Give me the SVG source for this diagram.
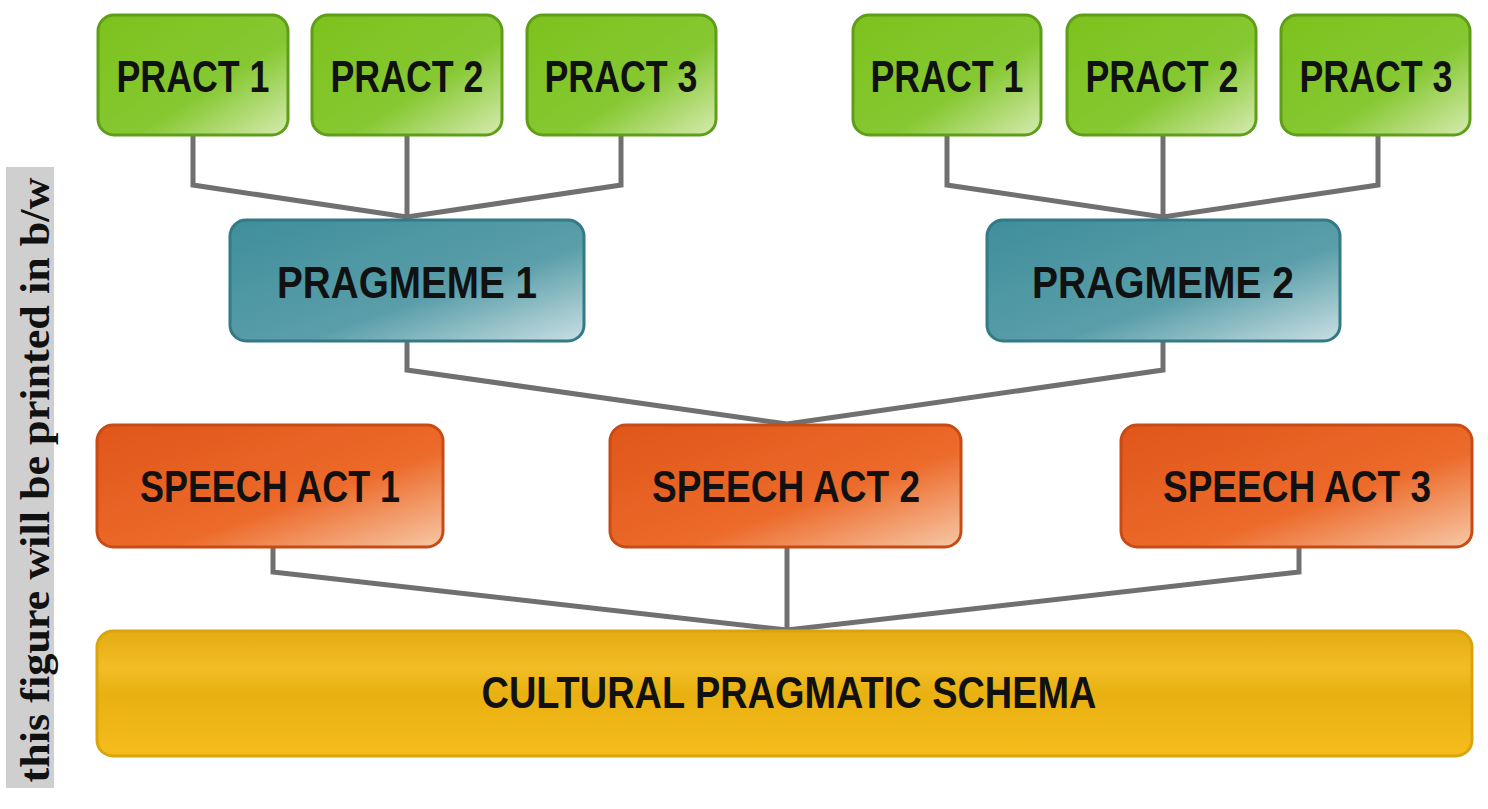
<svg xmlns="http://www.w3.org/2000/svg" width="1488" height="809" viewBox="0 0 1488 809">
<style>
.t{font-family:"Liberation Sans",Arial,sans-serif;font-weight:bold;font-size:44px;fill:#111;text-anchor:middle}
.c{fill:none;stroke:#707070;stroke-width:5;stroke-linejoin:miter}
.n{stroke-width:3}
</style>
<defs>
<linearGradient id="gg" x1="0" y1="0" x2="1" y2="1"><stop offset="0" stop-color="#7cc21c"/><stop offset="0.6" stop-color="#86c832"/><stop offset="1" stop-color="#d6ebb0"/></linearGradient>
<linearGradient id="gb" x1="0" y1="0" x2="1" y2="1"><stop offset="0" stop-color="#3f8e9c"/><stop offset="0.6" stop-color="#5a9ea9"/><stop offset="1" stop-color="#c9dfe3"/></linearGradient>
<linearGradient id="go" x1="0" y1="0" x2="1" y2="1"><stop offset="0" stop-color="#e0561a"/><stop offset="0.6" stop-color="#ec6a2a"/><stop offset="1" stop-color="#f7c8a6"/></linearGradient>
<linearGradient id="gy" x1="0" y1="0" x2="0" y2="1"><stop offset="0" stop-color="#e5ac12"/><stop offset="0.3" stop-color="#f2bd26"/><stop offset="0.5" stop-color="#e8b010"/><stop offset="1" stop-color="#f5bc1c"/></linearGradient>
</defs>
<rect width="1488" height="809" fill="#fff"/>
<g id="note"><rect x="6" y="167" width="48" height="621" fill="#cfcfcf"/>
<text transform="translate(49,480) rotate(-90)" text-anchor="middle" font-family="Liberation Serif,serif" font-weight="bold" font-size="42" fill="#111" textLength="605" lengthAdjust="spacingAndGlyphs">this figure will be printed in b/w</text></g>
<g id="connectors" class="c">
<polyline points="193,135 193,185 407,217 621,185 621,135"/><line x1="407" y1="135" x2="407" y2="217"/>
<polyline points="947,135 947,185 1163,217 1378,185 1378,135"/><line x1="1163" y1="135" x2="1163" y2="217"/>
<polyline points="407,341 407,370 787,424 1163,370 1163,341"/>
<polyline points="273,547 273,572 787,630 1299,572 1299,547"/><line x1="787" y1="547" x2="787" y2="630"/>
</g>
<g id="p1"><rect x="98" y="15" width="190" height="120" rx="16" fill="url(#gg)" stroke="#5e9e18" class="n"/><text class="t" x="193" y="92" textLength="153" lengthAdjust="spacingAndGlyphs">PRACT 1</text></g>
<g id="p2"><rect x="312" y="15" width="190" height="120" rx="16" fill="url(#gg)" stroke="#5e9e18" class="n"/><text class="t" x="407" y="92" textLength="153" lengthAdjust="spacingAndGlyphs">PRACT 2</text></g>
<g id="p3"><rect x="527" y="15" width="189" height="120" rx="16" fill="url(#gg)" stroke="#5e9e18" class="n"/><text class="t" x="621" y="92" textLength="153" lengthAdjust="spacingAndGlyphs">PRACT 3</text></g>
<g id="p4"><rect x="853" y="15" width="188" height="120" rx="16" fill="url(#gg)" stroke="#5e9e18" class="n"/><text class="t" x="947" y="92" textLength="153" lengthAdjust="spacingAndGlyphs">PRACT 1</text></g>
<g id="p5"><rect x="1067" y="15" width="189" height="120" rx="16" fill="url(#gg)" stroke="#5e9e18" class="n"/><text class="t" x="1162" y="92" textLength="153" lengthAdjust="spacingAndGlyphs">PRACT 2</text></g>
<g id="p6"><rect x="1281" y="15" width="189" height="120" rx="16" fill="url(#gg)" stroke="#5e9e18" class="n"/><text class="t" x="1376" y="92" textLength="153" lengthAdjust="spacingAndGlyphs">PRACT 3</text></g>
<g id="pg1"><rect x="230" y="220" width="354" height="121" rx="16" fill="url(#gb)" stroke="#327a86" class="n"/><text class="t" x="407" y="298" textLength="260" lengthAdjust="spacingAndGlyphs">PRAGMEME 1</text></g>
<g id="pg2"><rect x="987" y="220" width="353" height="121" rx="16" fill="url(#gb)" stroke="#327a86" class="n"/><text class="t" x="1163" y="298" textLength="262" lengthAdjust="spacingAndGlyphs">PRAGMEME 2</text></g>
<g id="s1"><rect x="97" y="425" width="346" height="122" rx="16" fill="url(#go)" stroke="#c84a14" class="n"/><text class="t" x="270" y="502" textLength="260" lengthAdjust="spacingAndGlyphs">SPEECH ACT 1</text></g>
<g id="s2"><rect x="610" y="425" width="351" height="122" rx="16" fill="url(#go)" stroke="#c84a14" class="n"/><text class="t" x="786" y="502" textLength="268" lengthAdjust="spacingAndGlyphs">SPEECH ACT 2</text></g>
<g id="s3"><rect x="1121" y="425" width="351" height="122" rx="16" fill="url(#go)" stroke="#c84a14" class="n"/><text class="t" x="1297" y="502" textLength="268" lengthAdjust="spacingAndGlyphs">SPEECH ACT 3</text></g>
<g id="schema"><rect x="97" y="631" width="1375" height="125" rx="16" fill="url(#gy)" stroke="#d9a40e" class="n"/><text class="t" x="789" y="708" textLength="615" lengthAdjust="spacingAndGlyphs">CULTURAL PRAGMATIC SCHEMA</text></g>
</svg>
